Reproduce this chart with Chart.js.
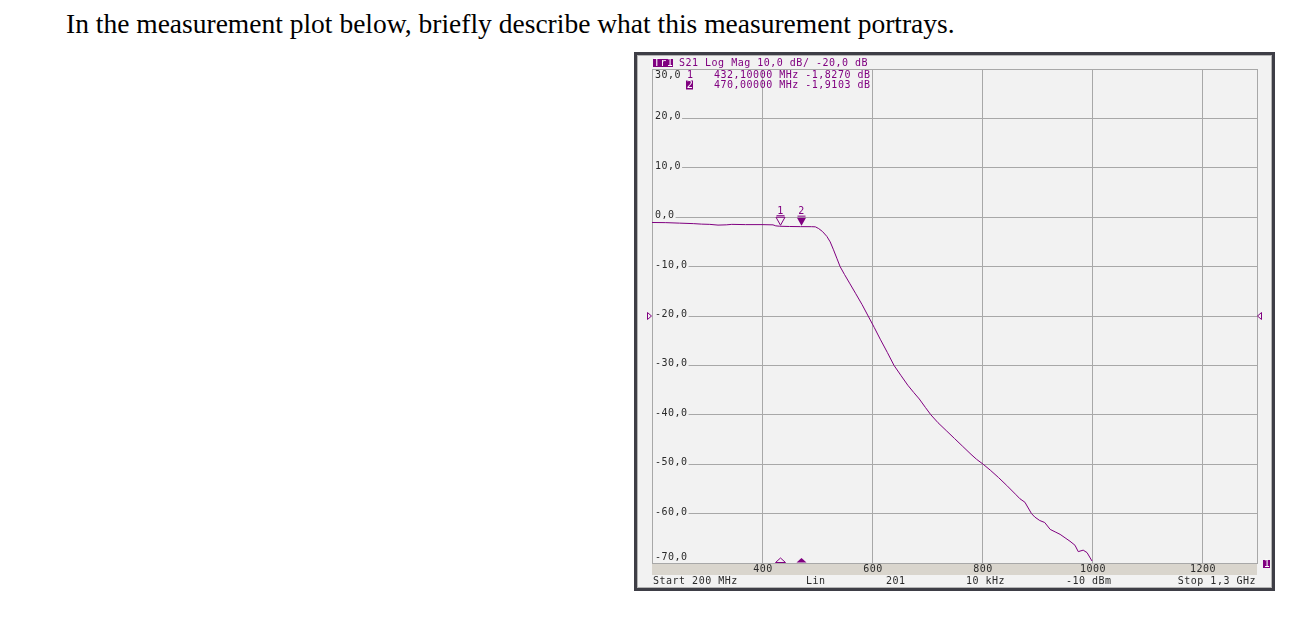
<!DOCTYPE html>
<html>
<head>
<meta charset="utf-8">
<script src="https://cdn.jsdelivr.net/npm/chart.js@4"></script>
<style>
    html, body { margin: 0; padding: 0; background: #fff; width: 1297px; height: 617px; overflow: hidden; }
    #question {
        position: absolute; left: 66px; top: 8px;
        font-family: 'Liberation Serif', 'Times New Roman', serif;
        font-size: 27.5px; line-height: 32px; color: #000; white-space: nowrap;
    }
    #vnaFrame {
        position: absolute; left: 634px; top: 52px; width: 635px; height: 533px;
        border: 3px solid #3e3e46; background: #f2f2f2;
        box-shadow: inset 0 0 0 1px #b4b4b4;
    }
    #vnaChart { position: absolute; left: 0; top: 0; }
</style>
</head>
<body>
<div id="question">In the measurement plot below, briefly describe what this measurement portrays.</div>
<div id="vnaFrame"></div>
<canvas id="vnaChart" width="1297" height="617"></canvas>
<script>
// S21 trace (MHz / dB)
const freqMHz = [200, 225, 250, 275, 290, 305, 320, 335, 345, 370, 400, 420, 425, 432.1, 450, 470, 490, 497,
    503, 510, 518, 524, 530, 536, 542, 550, 560, 570, 582, 593, 604, 615, 628, 640, 653, 665, 676, 686, 697,
    707, 720, 735, 750, 765, 780, 790, 802, 815, 830, 845, 862, 869, 878, 890, 896, 905, 914, 924, 933, 942,
    951, 960, 969, 975, 984, 991, 1000];
const s21dB = [-1.07, -1.1, -1.2, -1.3, -1.4, -1.45, -1.6, -1.55, -1.45, -1.5, -1.5, -1.55, -1.75, -1.83, -1.88, -1.91, -1.92, -1.95,
    -2.3, -2.9, -3.9, -5.0, -6.6, -8.3, -10.0, -11.6, -13.5, -15.4, -17.7, -20.0, -22.3, -24.7, -27.4, -30.0, -32.1, -34.0, -35.5, -36.8, -38.5,
    -40.0, -41.6, -43.2, -44.8, -46.4, -48.0, -49.0, -50.0, -51.2, -52.7, -54.3, -56.2, -57.0, -57.7, -60.0, -60.7, -61.4, -61.8, -63.2, -63.7, -64.2,
    -64.9, -65.6, -66.4, -67.7, -67.4, -67.9, -69.6];

// markers
const markerFreqs = [432.1, 470.0];
const markerVals = [-1.8270, -1.9103];
const activeMarker = 1;

// axes
const startFreq = 200;
const stopFreq = 1300;
const freqTicks = [400, 600, 800, 1000, 1200];
const dbTop = 30;
const dbBottom = -70;
const dbPerDiv = 10;
const refLevel = -20;

// status line
const statusFields = ['Start 200 MHz', 'Lin', '201', '10 kHz', '-10 dBm', 'Stop 1,3 GHz'];

const traceColor = '#800080';
const gridColor = '#a8a8a8';
const plotBg = '#f2f2f2';
const bandColor = '#d9d5cd';
const textColor = '#2a2a2a';
const monoFont = '10px "DejaVu Sans Mono", monospace';

let chart;

document.addEventListener('DOMContentLoaded', function() {
    initializeChart();
});

function comma(v, digits) {
    return v.toFixed(digits).replace('.', ',');
}

function triangle(ctx, pts, filled) {
    ctx.beginPath();
    ctx.moveTo(pts[0][0], pts[0][1]);
    ctx.lineTo(pts[1][0], pts[1][1]);
    ctx.lineTo(pts[2][0], pts[2][1]);
    ctx.closePath();
    if (filled) ctx.fill(); else ctx.stroke();
}

function badge(ctx, text, x0, y0, w, h) {
    ctx.fillStyle = traceColor;
    ctx.fillRect(x0, y0, w, h);
    ctx.fillStyle = '#fff';
    ctx.textAlign = 'center';
    ctx.fillText(text, x0 + w / 2 + 0.5, y0 + h / 2 + 0.5);
}

const vnaOverlay = {
    id: 'vnaOverlay',
    beforeDraw(chart) {
        const { ctx, chartArea: a } = chart;
        ctx.save();
        ctx.fillStyle = plotBg;
        ctx.fillRect(a.left, a.top, a.right - a.left, a.bottom - a.top);
        ctx.fillStyle = bandColor;
        ctx.fillRect(a.left, a.bottom, a.right - a.left, 12);
        ctx.restore();
    },
    afterDraw(chart) {
        const { ctx, chartArea: a } = chart;
        const xs = chart.scales.x;
        const ys = chart.scales.y;
        ctx.save();
        ctx.font = monoFont;
        ctx.letterSpacing = '0.5px';
        ctx.textBaseline = 'middle';

        // y labels with backdrop over the grid
        ys.ticks.forEach(t => {
            const label = comma(t.value, 1);
            let ty = ys.getPixelForValue(t.value) - 1.5;
            if (t.value === dbTop) ty = 75.5;
            if (t.value === dbBottom) ty = a.bottom - 6;
            const w = ctx.measureText(label).width;
            ctx.fillStyle = plotBg;
            ctx.fillRect(a.left + 1, ty - 5, w + 3, 10);
            ctx.fillStyle = textColor;
            ctx.textAlign = 'left';
            ctx.fillText(label, a.left + 3, ty);
        });

        // x labels in the band
        ctx.textAlign = 'center';
        freqTicks.forEach(f => {
            ctx.fillText(String(f), xs.getPixelForValue(f) + 1, a.bottom + 6.5);
        });

        // status line
        const statusX = [a.left + 1, 806, 886, 966, 1066];
        ctx.textAlign = 'left';
        statusFields.forEach((s, i) => {
            if (i === statusFields.length - 1) {
                ctx.textAlign = 'right';
                ctx.fillText(s, a.right - 1, 581);
            } else {
                ctx.fillText(s, statusX[i], 581);
            }
        });

        // header
        badge(ctx, 'Tr1', 653, 59, 20, 8);
        ctx.fillStyle = traceColor;
        ctx.textAlign = 'left';
        ctx.fillText('S21 Log Mag ' + comma(dbPerDiv, 1) + ' dB/ ' + comma(refLevel, 1) + ' dB', 679, 63.5);

        // marker readouts
        markerFreqs.forEach((f, i) => {
            const ry = 75.5 + i * 9.5;
            const txt = comma(f, 5) + ' MHz ' + comma(markerVals[i], 4) + ' dB';
            if (i === activeMarker) {
                badge(ctx, String(i + 1), 686, ry - 4.5, 7, 9);
            } else {
                ctx.fillStyle = traceColor;
                ctx.textAlign = 'left';
                ctx.fillText(String(i + 1), 687, ry);
            }
            ctx.fillStyle = traceColor;
            ctx.textAlign = 'left';
            ctx.fillText(txt, 714, ry);
        });

        // markers on trace and stimulus indicators
        ctx.strokeStyle = traceColor;
        ctx.fillStyle = traceColor;
        ctx.lineWidth = 1;
        markerFreqs.forEach((f, i) => {
            const px = Math.round(xs.getPixelForValue(f)) + 0.5;
            const py = ys.getPixelForValue(markerVals[i]);
            const filled = i === activeMarker;
            triangle(ctx, [[px - 4.5, py - 9], [px + 4.5, py - 9], [px, py - 1]], filled);
            ctx.textAlign = 'center';
            ctx.fillText(String(i + 1), px, py - 15);
            ctx.beginPath();
            ctx.moveTo(px - 4, py - 10.5);
            ctx.lineTo(px + 4, py - 10.5);
            ctx.stroke();
            triangle(ctx, [[px - 5, a.bottom - 0.5], [px + 5, a.bottom - 0.5], [px, a.bottom - 5]], filled);
        });

        // reference level arrows
        const ry = ys.getPixelForValue(refLevel);
        triangle(ctx, [[647.5, ry - 3.5], [647.5, ry + 3.5], [651.5, ry]], false);
        triangle(ctx, [[a.right + 4.5, ry - 3.5], [a.right + 4.5, ry + 3.5], [a.right + 0.5, ry]], false);

        // channel badge
        badge(ctx, '1', 1263, 560, 7, 8);
        ctx.restore();
    }
};

function initializeChart() {
    const ctx = document.getElementById('vnaChart').getContext('2d');
    chart = new Chart(ctx, {
        type: 'line',
        data: {
            datasets: [
                {
                    label: 'S21',
                    data: freqMHz.map((f, i) => ({ x: f, y: s21dB[i] })),
                    borderColor: traceColor,
                    borderWidth: 1,
                    fill: false,
                    tension: 0,
                    pointRadius: 0
                }
            ]
        },
        options: {
            responsive: false,
            animation: false,
            layout: { padding: { left: 652, right: 40, top: 69, bottom: 54 } },
            plugins: {
                legend: { display: false },
                tooltip: { enabled: false }
            },
            scales: {
                x: {
                    type: 'linear',
                    min: startFreq,
                    max: stopFreq,
                    afterBuildTicks: axis => {
                        axis.ticks = [startFreq, ...freqTicks, stopFreq].map(v => ({ value: v }));
                    },
                    ticks: { display: false },
                    grid: { color: gridColor, drawTicks: false },
                    border: { color: gridColor }
                },
                y: {
                    min: dbBottom,
                    max: dbTop,
                    ticks: { display: false, stepSize: dbPerDiv },
                    grid: { color: gridColor, drawTicks: false },
                    border: { color: gridColor }
                }
            }
        },
        plugins: [vnaOverlay]
    });
}
</script>
</body>
</html>
